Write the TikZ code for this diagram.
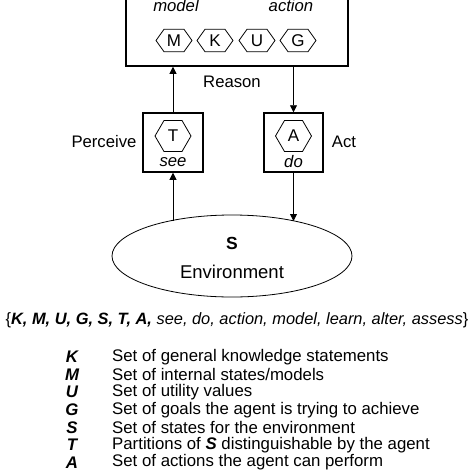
\documentclass[tikz,border=0pt]{standalone}
\usepackage{fontspec}
\setmainfont{Liberation Sans}
\usetikzlibrary{arrows.meta,shapes.geometric}
\tikzset{
  boxline/.style={draw=black, line width=1.5pt, fill=white},
  thinline/.style={draw=black, line width=0.8pt},
  hexlbl/.style={inner sep=0pt, font=\fontsize{17}{17}\selectfont},
  lbl/.style={inner sep=0pt, font=\fontsize{16.7}{16.7}\selectfont},
  ilbl/.style={inner sep=0pt, font=\fontsize{16.7}{16.7}\selectfont\itshape},
  legkey/.style={inner sep=0pt, font=\fontsize{16.8}{16.8}\selectfont\bfseries\itshape},
  legtxt/.style={inner sep=0pt, anchor=west, font=\fontsize{16.8}{16.8}\selectfont},
  arr/.style={thinline, -{Triangle[length=7pt,width=7pt]}},
}
\newcommand\hexat[6]{%
  \node[hexlbl] (#1) at (#2,#3) {#4};
  \draw[thinline] ([shift={(-18,0)}]#1.center) -- ([shift={(-18+#6,#5)}]#1.center)
    -- ([shift={(18-#6,#5)}]#1.center) -- ([shift={(18,0)}]#1.center)
    -- ([shift={(18-#6,-#5)}]#1.center) -- ([shift={(-18+#6,-#5)}]#1.center) -- cycle;}
\begin{document}
\begin{tikzpicture}[x=1pt,y=-1pt]
\useasboundingbox (0,0) rectangle (474,474);
\fill[white] (0,0) rectangle (474,474);
% top reasoning box
\node[boxline, minimum width=222pt, minimum height=86pt, inner sep=0pt] (top) at (237,23) {};
\node[ilbl] (model) at (176,6) {model};
\node[ilbl] (action) at (291,6) {action};
\hexat{M}{174}{40.5}{M}{11.2}{8}
\hexat{K}{215}{40.5}{K}{11.2}{8}
\hexat{U}{257}{40.5}{U}{11.2}{8}
\hexat{G}{298}{40.5}{G}{11.2}{8}
\node[lbl] (reason) at (232,81.5) {Reason};
% perceive box
\node[boxline, minimum width=60pt, minimum height=59pt, inner sep=0pt] (perc) at (173,142.5) {};
\hexat{T}{173}{136}{T}{15.5}{9}
\node[ilbl] (see) at (173,162) {see};
\node[lbl] (perclbl) at (104,142) {Perceive};
% act box
\node[boxline, minimum width=59pt, minimum height=59pt, inner sep=0pt] (act) at (293.5,142.5) {};
\hexat{A}{293.5}{136}{A}{15.5}{9}
\node[ilbl] (do) at (293.5,162) {do};
\node[lbl] (actlbl) at (344,142) {Act};
% environment
\node[draw=black, line width=0.8pt, ellipse, minimum width=240pt, minimum height=82pt, inner sep=0pt] (env) at (232,256) {};
\node[inner sep=0pt, font=\fontsize{17.5}{17.5}\selectfont\bfseries] (S) at (232,243) {S};
\node[inner sep=0pt, font=\fontsize{18.5}{18.5}\selectfont] (envlbl) at (232,272) {Environment};
\coordinate (pin) at (173,220.5);
\coordinate (aout) at (293.5,221);
% arrows
\draw[arr] (pin) -- (perc.south);
\draw[arr] (perc.north) -- (perc.north |- top.south);
\draw[arr] (act.north |- top.south) -- (act.north);
\draw[arr] (act.south) -- (aout);
% set line
\node[inner sep=0pt, font=\fontsize{16.4}{16.4}\selectfont] (set) at (237,320)
 {\{\textbf{\textit{K, M, U, G, S, T, A,}} \textit{see, do, action, model, learn, alter, assess}\}};
% legend
\foreach \k/\t [count=\i from 0] in {K/Set of general knowledge statements,
  M/Set of internal states\slash models,
  U/Set of utility values,
  G/Set of goals the agent is trying to achieve,
  S/Set of states for the environment,
  T/{Partitions of \textbf{\textit{S}} distinguishable by the agent},
  A/Set of actions the agent can perform}{
  \node[legkey] (key\i) at (72,357+17.6*\i) {\k};
  \node[legtxt] (txt\i) at (112,357+17.6*\i) {\t};
}
\end{tikzpicture}
\end{document}
